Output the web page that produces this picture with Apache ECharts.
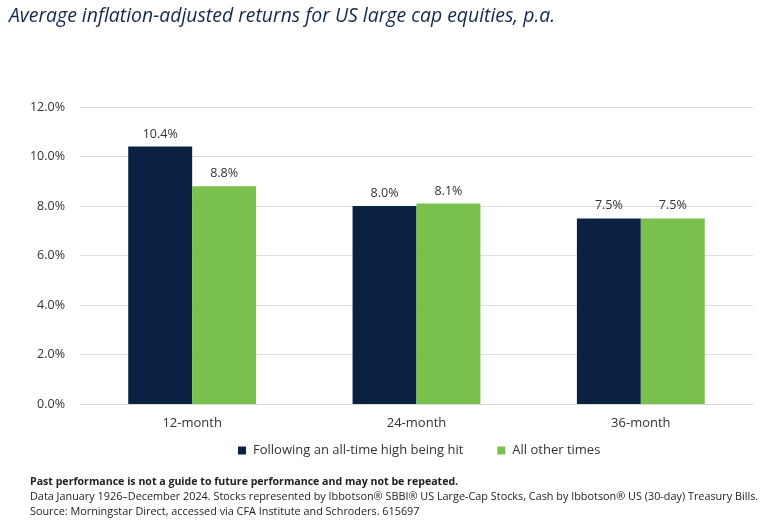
<!DOCTYPE html>
<html>
<head>
<meta charset="utf-8">
<script src="https://cdn.jsdelivr.net/npm/echarts@6/dist/echarts.min.js"></script>
<style>
	html, body { margin: 0; padding: 0; background: #fff; }
	#chart { width: 768px; height: 525px; }
</style>
</head>
<body>
<div id="chart"></div>
<script>
var categories = ['12-month', '24-month', '36-month'];
var seriesNames = ['Following an all-time high being hit', 'All other times'];
var afterHigh = [10.4, 8.0, 7.5];
var otherTimes = [8.8, 8.1, 7.5];
var footnotes = [
	'Past performance is not a guide to future performance and may not be repeated.',
	'Data January 1926\u2013December 2024. Stocks represented by Ibbotson\u00ae SBBI\u00ae US Large-Cap Stocks, Cash by Ibbotson\u00ae US (30-day) Treasury Bills.',
	'Source: Morningstar Direct, accessed via CFA Institute and Schroders. 615697'
];

(function () {
	var myChart = echarts.init(document.getElementById('chart'));
	var textColor = '#333';
	// 柱子上方的数值标签
	var barLabel = {
		show: true,
		position: 'top',
		distance: 6,
		color: textColor,
		fontFamily: 'Open Sans',
		fontSize: 12.5,
		formatter: function (p) { return p.value.toFixed(1) + '%'; }
	};
	var option = {
		animation: false,
		title: {
			text: 'Average inflation-adjusted returns for US large cap equities, p.a.',
			left: 4,
			top: 2,
			textStyle: {
				fontFamily: 'Open Sans',
				fontStyle: 'italic',
				fontWeight: 'normal',
				fontSize: 19.4,
				color: '#14294a'
			}
		},
		legend: {
			data: seriesNames,
			top: 439,
			left: 233,
			itemWidth: 8,
			itemHeight: 8,
			itemGap: 34,
			icon: 'rect',
			textStyle: { fontFamily: 'Open Sans', fontSize: 13, color: textColor, padding: [0, 0, 0, 2] }
		},
		graphic: [{
			type: 'text',
			left: 30,
			top: 476,
			style: {
				text: footnotes[0],
				font: 'bold 10.6px "Open Sans"',
				fill: '#222'
			}
		}, {
			type: 'text',
			left: 30,
			top: 490,
			style: {
				text: footnotes[1] + '\n' + footnotes[2],
				font: '10.85px "Open Sans"',
				lineHeight: 14.5,
				fill: '#222'
			}
		}],
		grid: {
			left: 80,
			right: 15,
			top: 107,
			bottom: 121
		},
		xAxis: {
			type: 'category',
			data: categories,
			axisTick: { show: false },
			axisLine: { lineStyle: { color: '#d9d9d9' } },
			axisLabel: { color: textColor, fontFamily: 'Open Sans', fontSize: 13, margin: 13 }
		},
		yAxis: {
			type: 'value',
			min: 0,
			max: 12,
			interval: 2,
			axisLine: { show: false },
			axisTick: { show: false },
			axisLabel: {
				color: textColor,
				fontFamily: 'Open Sans',
				fontSize: 12.5,
				margin: 15,
				formatter: function (v) { return v.toFixed(1) + '%'; }
			},
			splitLine: { lineStyle: { color: '#dedede' } }
		},
		series: [{
			name: seriesNames[0],
			type: 'bar',
			data: afterHigh,
			barWidth: '28.5%',
			barGap: '0%',
			itemStyle: { color: '#0b2142' },
			label: barLabel
		}, {
			name: seriesNames[1],
			type: 'bar',
			data: otherTimes,
			barWidth: '28.5%',
			itemStyle: { color: '#7ac04c' },
			label: barLabel
		}]
	};
	myChart.setOption(option);
})();
</script>
</body>
</html>
